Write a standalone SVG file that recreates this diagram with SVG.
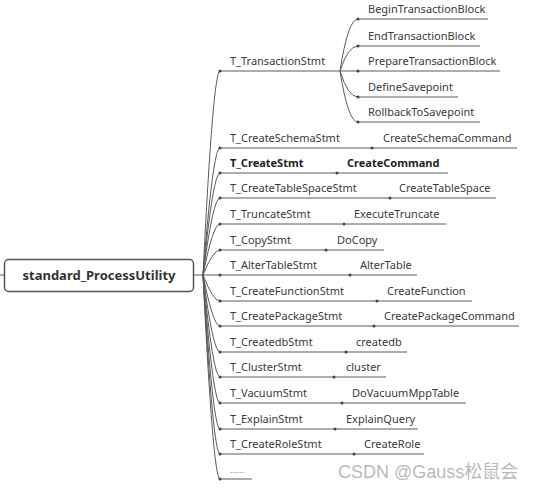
<svg xmlns="http://www.w3.org/2000/svg" width="539" height="490" viewBox="0 0 539 490">
<style>
.ln{fill:none;stroke:#5a5a5a;stroke-width:1}
.dot{fill:#444}
.t{font-family:"Noto Sans","Open Sans",sans-serif;font-size:11px;fill:#3a3a3a}
.b{font-weight:bold;fill:#222}
.root{font-family:"Noto Sans","Open Sans",sans-serif;font-size:13px;font-weight:bold;fill:#333}
</style>
<rect width="539" height="490" fill="#ffffff"/>
<g id="connectors">
<path class="ln" d="M0,275H4M194,275H220"/>
<path class="ln" d="M203,275Q213,71 220,71"/>
<path class="ln" d="M203,275Q213,148 220,148"/>
<path class="ln" d="M203,275Q213,173 220,173"/>
<path class="ln" d="M203,275Q213,198 220,198"/>
<path class="ln" d="M203,275Q213,224 220,224"/>
<path class="ln" d="M203,275Q213,250 220,250"/>
<path class="ln" d="M203,275Q213,301 220,301"/>
<path class="ln" d="M203,275Q213,326 220,326"/>
<path class="ln" d="M203,275Q213,352 220,352"/>
<path class="ln" d="M203,275Q213,377 220,377"/>
<path class="ln" d="M203,275Q213,403 220,403"/>
<path class="ln" d="M203,275Q213,429 220,429"/>
<path class="ln" d="M203,275Q213,454 220,454"/>
<path class="ln" d="M203,275Q213,479 220,479"/>
<path class="ln" d="M340,71Q348,19 358,19H488"/>
<path class="ln" d="M340,71Q348,46 358,46H480"/>
<path class="ln" d="M340,71Q348,97 358,97H458"/>
<path class="ln" d="M340,71Q348,122 358,122H480"/>
<path class="ln" d="M220,71H500"/>
<path class="ln" d="M220,148H517"/>
<path class="ln" d="M220,173H448"/>
<path class="ln" d="M220,198H496"/>
<path class="ln" d="M220,224H446"/>
<path class="ln" d="M220,250H384"/>
<path class="ln" d="M220,275H417"/>
<path class="ln" d="M220,301H472"/>
<path class="ln" d="M220,326H519"/>
<path class="ln" d="M220,352H407"/>
<path class="ln" d="M220,377H386"/>
<path class="ln" d="M220,403H466"/>
<path class="ln" d="M220,429H418"/>
<path class="ln" d="M220,454H424"/>
<path class="ln" d="M220,479H252"/>
<g class="dot">
<circle cx="220" cy="71" r="1.5"/><circle cx="220" cy="148" r="1.5"/><circle cx="220" cy="173" r="1.5"/><circle cx="220" cy="198" r="1.5"/><circle cx="220" cy="224" r="1.5"/><circle cx="220" cy="250" r="1.5"/><circle cx="220" cy="275" r="1.5"/><circle cx="220" cy="301" r="1.5"/><circle cx="220" cy="326" r="1.5"/><circle cx="220" cy="352" r="1.5"/><circle cx="220" cy="377" r="1.5"/><circle cx="220" cy="403" r="1.5"/><circle cx="220" cy="429" r="1.5"/><circle cx="220" cy="454" r="1.5"/><circle cx="220" cy="479" r="1.5"/>
<circle cx="358" cy="19" r="1.5"/><circle cx="358" cy="46" r="1.5"/><circle cx="358" cy="71" r="1.5"/><circle cx="358" cy="97" r="1.5"/><circle cx="358" cy="122" r="1.5"/>
<circle cx="372" cy="148" r="1.5"/><circle cx="337" cy="173" r="1.5"/><circle cx="390" cy="198" r="1.5"/><circle cx="344" cy="224" r="1.5"/><circle cx="326" cy="250" r="1.5"/><circle cx="350" cy="275" r="1.5"/><circle cx="377" cy="301" r="1.5"/><circle cx="374" cy="326" r="1.5"/><circle cx="346" cy="352" r="1.5"/><circle cx="334" cy="377" r="1.5"/><circle cx="342" cy="403" r="1.5"/><circle cx="335" cy="429" r="1.5"/><circle cx="354" cy="454" r="1.5"/>
</g>
</g>
<g id="root">
<rect x="4.5" y="259.5" width="189" height="32" rx="4" fill="#fff" stroke="#555" stroke-width="1.5"/>
<text class="root" x="99" y="280" text-anchor="middle">standard_ProcessUtility</text>
</g>
<g id="n-transaction"><text class="t" x="230" y="65">T_TransactionStmt</text></g>
<g id="n-begin"><text class="t" x="368" y="13">BeginTransactionBlock</text></g>
<g id="n-end"><text class="t" x="368" y="40">EndTransactionBlock</text></g>
<g id="n-prepare"><text class="t" x="368" y="65">PrepareTransactionBlock</text></g>
<g id="n-define"><text class="t" x="368" y="91">DefineSavepoint</text></g>
<g id="n-rollback"><text class="t" x="368" y="116">RollbackToSavepoint</text></g>
<g id="n-schema"><text class="t" x="230" y="142">T_CreateSchemaStmt</text><text class="t" x="383" y="142">CreateSchemaCommand</text></g>
<g id="n-create"><text class="t b" x="230" y="167">T_CreateStmt</text><text class="t b" x="347" y="167">CreateCommand</text></g>
<g id="n-tablespace"><text class="t" x="230" y="192">T_CreateTableSpaceStmt</text><text class="t" x="399" y="192">CreateTableSpace</text></g>
<g id="n-truncate"><text class="t" x="230" y="218">T_TruncateStmt</text><text class="t" x="354" y="218">ExecuteTruncate</text></g>
<g id="n-copy"><text class="t" x="230" y="244">T_CopyStmt</text><text class="t" x="337" y="244">DoCopy</text></g>
<g id="n-alter"><text class="t" x="230" y="269">T_AlterTableStmt</text><text class="t" x="360" y="269">AlterTable</text></g>
<g id="n-function"><text class="t" x="230" y="295">T_CreateFunctionStmt</text><text class="t" x="387" y="295">CreateFunction</text></g>
<g id="n-package"><text class="t" x="230" y="320">T_CreatePackageStmt</text><text class="t" x="384" y="320">CreatePackageCommand</text></g>
<g id="n-createdb"><text class="t" x="230" y="346">T_CreatedbStmt</text><text class="t" x="356" y="346">createdb</text></g>
<g id="n-cluster"><text class="t" x="230" y="371">T_ClusterStmt</text><text class="t" x="346" y="371">cluster</text></g>
<g id="n-vacuum"><text class="t" x="230" y="397">T_VacuumStmt</text><text class="t" x="352" y="397">DoVacuumMppTable</text></g>
<g id="n-explain"><text class="t" x="230" y="423">T_ExplainStmt</text><text class="t" x="346" y="423">ExplainQuery</text></g>
<g id="n-role"><text class="t" x="230" y="448">T_CreateRoleStmt</text><text class="t" x="364" y="448">CreateRole</text></g>
<g id="n-more"><text class="t" x="230" y="473" style="font-size:9px;fill:#777">......</text></g>
<text x="338" y="478" style="font-family:'Liberation Sans','Noto Sans CJK SC',sans-serif;font-size:18px;fill:#999;fill-opacity:0.7">CSDN @Gauss松鼠会</text>
</svg>
